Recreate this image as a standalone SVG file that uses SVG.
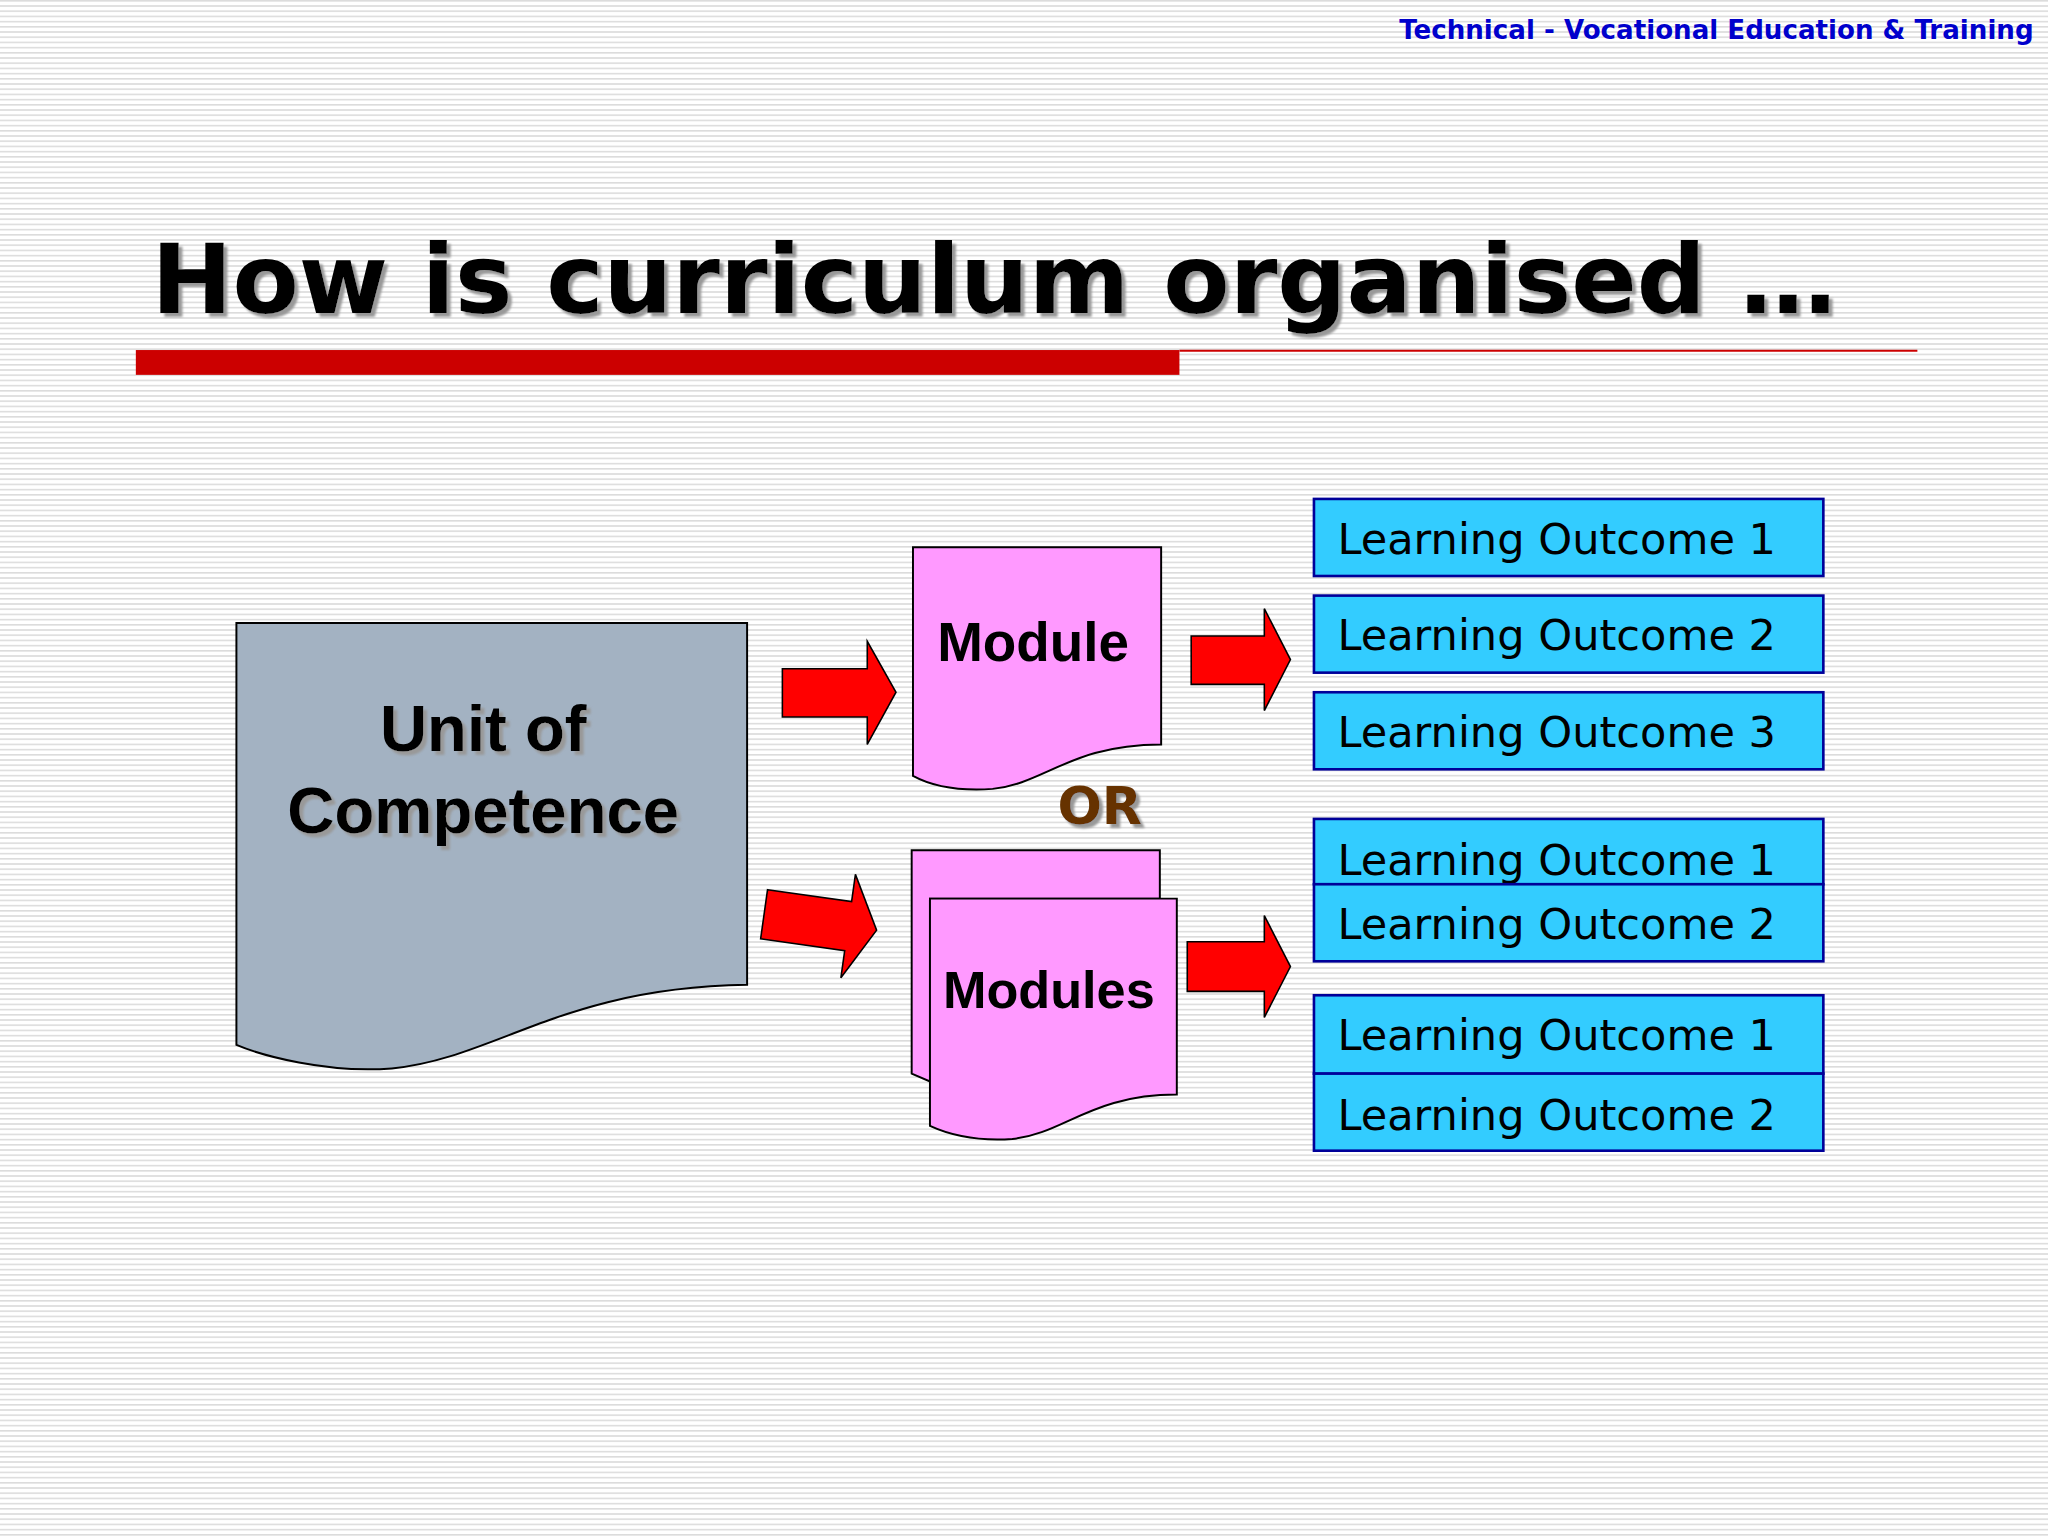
<svg xmlns="http://www.w3.org/2000/svg" width="2048" height="1536" viewBox="0 0 2048 1536">
<defs>
<pattern id="st" width="8" height="5.2" patternUnits="userSpaceOnUse"><rect width="8" height="5.2" fill="#fff"/><rect y="0" width="8" height="1.6" fill="#dcdcdc"/></pattern>
<filter id="sh"><feDropShadow dx="3" dy="3" stdDeviation="1" flood-color="#999"/></filter>
<style>
.doc{stroke:#000;stroke-width:1.5}
.pink{fill:#FF99FF}
.lo rect{fill:#33CCFF;stroke:#000099;stroke-width:2}
.lo text{font-family:"DejaVu Sans",sans-serif;font-size:33px;fill:#000}
.arr{fill:#FF0000;stroke:#000;stroke-width:1.2}
.bt{font-family:"Liberation Sans",Arial,sans-serif;font-weight:bold;text-anchor:middle;fill:#000}
</style>
</defs>
<rect width="2048" height="1536" fill="url(#st)"/>
<g transform="scale(1.30612)">
<text x="1557" y="30" text-anchor="end" font-family="DejaVu Sans,sans-serif" font-weight="bold" font-size="20" fill="#0000CC">Technical - Vocational Education &amp; Training</text>
<text x="116" y="240" font-family="DejaVu Sans,sans-serif" font-weight="bold" font-size="74" fill="#000" filter="url(#sh)" textLength="1290" lengthAdjust="spacingAndGlyphs">How is curriculum organised …</text>
<rect x="104" y="268" width="799" height="19" fill="#CC0000"/>
<line x1="903" y1="268.5" x2="1468" y2="268.5" stroke="#CC0000" stroke-width="1.5"/>
<g id="unit">
<path class="doc" fill="#A3B2C2" d="M181,477H572V754C430,756 380,810 300,818C250,822 200,808 181,800Z"/>
<text class="bt" x="370" y="575" font-size="50" filter="url(#sh)">Unit of</text>
<text class="bt" x="370" y="638" font-size="50" filter="url(#sh)">Competence</text>
</g>
<g id="module">
<path class="doc pink" d="M699,419H889V570C820,570 800,600 760,604C730,606 710,600 699,594Z"/>
<text class="bt" x="791" y="506" font-size="42">Module</text>
</g>
<text id="or" x="842" y="631" text-anchor="middle" font-family="DejaVu Sans,sans-serif" font-weight="bold" font-size="40" fill="#663300" filter="url(#sh)">OR</text>
<g id="modules">
<path class="doc pink" d="M698,651H888V688H712V828L698,822Z"/>
<path class="doc pink" d="M712,688H901V838C835,838 815,868 775,872C745,874 725,868 712,862Z"/>
<text class="bt" x="803" y="772" font-size="40">Modules</text>
</g>
<g id="connectors">
<path class="arr" d="M599,512H664V491L686,530L664,570V549H599Z"/>
<path class="arr" transform="rotate(8 585 700)" d="M585,681H650V660L672,700L650,740V719H585Z"/>
<path class="arr" d="M912,487H968V466L988,505L968,544V524H912Z"/>
<path class="arr" d="M909,721H968V701L988,740L968,779V759H909Z"/>
</g>
<g id="lo1" class="lo"><rect x="1006" y="382" width="390" height="59"/><text x="1024" y="424">Learning Outcome 1</text></g>
<g id="lo2" class="lo"><rect x="1006" y="456" width="390" height="59"/><text x="1024" y="498">Learning Outcome 2</text></g>
<g id="lo3" class="lo"><rect x="1006" y="530" width="390" height="59"/><text x="1024" y="572">Learning Outcome 3</text></g>
<g id="lo4" class="lo"><rect x="1006" y="627" width="390" height="50"/><text x="1024" y="670">Learning Outcome 1</text></g>
<g id="lo5" class="lo"><rect x="1006" y="677" width="390" height="59"/><text x="1024" y="719">Learning Outcome 2</text></g>
<g id="lo6" class="lo"><rect x="1006" y="762" width="390" height="60"/><text x="1024" y="804">Learning Outcome 1</text></g>
<g id="lo7" class="lo"><rect x="1006" y="822" width="390" height="59"/><text x="1024" y="865">Learning Outcome 2</text></g>
</g>
</svg>
